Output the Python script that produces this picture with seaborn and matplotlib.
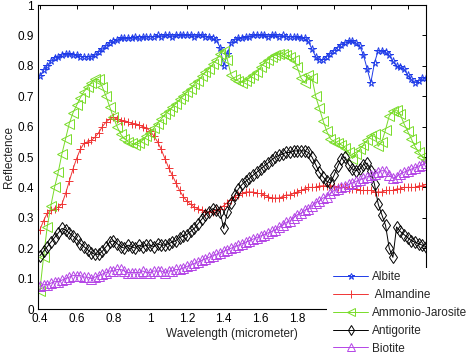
import matplotlib
matplotlib.use("Agg")
import matplotlib.pyplot as plt
import matplotlib.ticker as mticker
from matplotlib.patches import Rectangle
import seaborn as sns

# ── Data ──────────────────────────────────────────────────────
wavelength = [
    0.40, 0.42, 0.44, 0.46, 0.48, 0.50, 0.52, 0.54, 0.56, 0.58,
    0.60, 0.62, 0.64, 0.66, 0.68, 0.70, 0.72, 0.74, 0.76, 0.78,
    0.80, 0.82, 0.84, 0.86, 0.88, 0.90, 0.92, 0.94, 0.96, 0.98,
    1.00, 1.02, 1.04, 1.06, 1.08, 1.10, 1.12, 1.14, 1.16, 1.18,
    1.20, 1.22, 1.24, 1.26, 1.28, 1.30, 1.32, 1.34, 1.36, 1.38,
    1.40, 1.42, 1.44, 1.46, 1.48, 1.50, 1.52, 1.54, 1.56, 1.58,
    1.60, 1.62, 1.64, 1.66, 1.68, 1.70, 1.72, 1.74, 1.76, 1.78,
    1.80, 1.82, 1.84, 1.86, 1.88, 1.90, 1.92, 1.94, 1.96, 1.98,
    2.00, 2.02, 2.04, 2.06, 2.08, 2.10, 2.12, 2.14, 2.16, 2.18,
    2.20, 2.22, 2.24, 2.26, 2.28, 2.30, 2.32, 2.34, 2.36, 2.38,
    2.40, 2.42, 2.44, 2.46, 2.48, 2.50,
]

albite = [
    0.765, 0.785, 0.80, 0.815, 0.825, 0.83, 0.835, 0.84, 0.84, 0.835,
    0.835, 0.83, 0.83, 0.83, 0.83, 0.835, 0.845, 0.855, 0.865, 0.875,
    0.88, 0.885, 0.89, 0.89, 0.89, 0.89, 0.895, 0.89, 0.895, 0.895,
    0.895, 0.895, 0.90, 0.895, 0.90, 0.90, 0.895, 0.90, 0.90, 0.90,
    0.90, 0.90, 0.895, 0.90, 0.90, 0.895, 0.895, 0.89, 0.885, 0.86,
    0.80, 0.84, 0.875, 0.885, 0.89, 0.89, 0.895, 0.895, 0.90, 0.90,
    0.90, 0.90, 0.895, 0.90, 0.90, 0.895, 0.90, 0.895, 0.895, 0.895,
    0.895, 0.89, 0.89, 0.88, 0.855, 0.83, 0.82, 0.82, 0.83, 0.84,
    0.85, 0.86, 0.87, 0.875, 0.88, 0.88, 0.875, 0.865, 0.835, 0.79,
    0.745, 0.81, 0.85, 0.85, 0.845, 0.835, 0.815, 0.80, 0.795, 0.79,
    0.77, 0.755, 0.745, 0.75, 0.76, 0.76,
]

almandine = [
    0.26, 0.29, 0.315, 0.325, 0.33, 0.335, 0.345, 0.38, 0.42, 0.46,
    0.495, 0.525, 0.545, 0.55, 0.555, 0.565, 0.58, 0.60, 0.615, 0.625,
    0.63, 0.625, 0.62, 0.62, 0.615, 0.61, 0.61, 0.605, 0.60, 0.595,
    0.585, 0.57, 0.55, 0.525, 0.495, 0.465, 0.44, 0.415, 0.39, 0.37,
    0.355, 0.345, 0.335, 0.33, 0.325, 0.32, 0.32, 0.32, 0.325, 0.33,
    0.34, 0.35, 0.36, 0.37, 0.375, 0.38, 0.385, 0.385, 0.385, 0.38,
    0.38, 0.375, 0.37, 0.365, 0.365, 0.365, 0.37, 0.375, 0.375, 0.38,
    0.385, 0.39, 0.395, 0.40, 0.40, 0.40, 0.405, 0.405, 0.405, 0.405,
    0.405, 0.40, 0.40, 0.40, 0.395, 0.395, 0.395, 0.39, 0.39, 0.39,
    0.39, 0.385, 0.385, 0.385, 0.39, 0.39, 0.39, 0.395, 0.395, 0.40,
    0.40, 0.40, 0.40, 0.405, 0.405, 0.41,
]

ammonio_jarosite = [
    0.06, 0.17, 0.27, 0.34, 0.40, 0.45, 0.51, 0.56, 0.61, 0.645,
    0.67, 0.695, 0.715, 0.73, 0.745, 0.755, 0.755, 0.73, 0.70, 0.665,
    0.63, 0.60, 0.575, 0.56, 0.55, 0.545, 0.54, 0.545, 0.555, 0.57,
    0.58, 0.595, 0.61, 0.625, 0.64, 0.65, 0.665, 0.675, 0.69, 0.70,
    0.715, 0.725, 0.74, 0.75, 0.765, 0.78, 0.79, 0.805, 0.82, 0.84,
    0.85, 0.82, 0.77, 0.755, 0.75, 0.745, 0.75, 0.76, 0.77, 0.78,
    0.795, 0.81, 0.82, 0.83, 0.835, 0.84, 0.84, 0.835, 0.83, 0.82,
    0.795, 0.76, 0.745, 0.77, 0.76, 0.70, 0.66, 0.62, 0.585, 0.56,
    0.55, 0.545, 0.54, 0.53, 0.515, 0.495, 0.51, 0.525, 0.54, 0.555,
    0.57, 0.575, 0.535, 0.55, 0.59, 0.635, 0.65, 0.655, 0.64, 0.61,
    0.585, 0.56, 0.535, 0.515, 0.50, 0.49,
]

antigorite = [
    0.175, 0.19, 0.205, 0.22, 0.235, 0.25, 0.265, 0.26, 0.25, 0.24,
    0.23, 0.215, 0.205, 0.195, 0.185, 0.18, 0.18, 0.19, 0.205, 0.22,
    0.225, 0.215, 0.205, 0.20, 0.21, 0.205, 0.20, 0.21, 0.205, 0.21,
    0.21, 0.205, 0.215, 0.21, 0.21, 0.215, 0.22, 0.225, 0.235, 0.24,
    0.245, 0.255, 0.265, 0.28, 0.295, 0.31, 0.32, 0.33, 0.325, 0.32,
    0.265, 0.32, 0.35, 0.375, 0.395, 0.41, 0.42, 0.43, 0.44, 0.45,
    0.46, 0.47, 0.48, 0.49, 0.50, 0.505, 0.51, 0.515, 0.515, 0.52,
    0.52, 0.52, 0.52, 0.515, 0.50, 0.475, 0.45, 0.435, 0.42, 0.415,
    0.44, 0.47, 0.495, 0.50, 0.475, 0.46, 0.455, 0.46, 0.475, 0.48,
    0.455, 0.41, 0.345, 0.31, 0.275, 0.20, 0.17, 0.27, 0.255, 0.245,
    0.235, 0.225, 0.22, 0.215, 0.21, 0.205,
]

biotite = [
    0.075, 0.08, 0.08, 0.085, 0.09, 0.09, 0.095, 0.10, 0.105, 0.11,
    0.11, 0.11, 0.105, 0.105, 0.10, 0.105, 0.11, 0.115, 0.12, 0.125,
    0.125, 0.13, 0.13, 0.125, 0.12, 0.12, 0.12, 0.12, 0.125, 0.12,
    0.12, 0.125, 0.125, 0.125, 0.12, 0.125, 0.125, 0.13, 0.13, 0.135,
    0.14, 0.145, 0.15, 0.155, 0.16, 0.165, 0.17, 0.175, 0.18, 0.185,
    0.19, 0.195, 0.20, 0.205, 0.21, 0.215, 0.22, 0.225, 0.23, 0.235,
    0.24, 0.245, 0.25, 0.255, 0.26, 0.27, 0.275, 0.285, 0.29, 0.30,
    0.31, 0.315, 0.325, 0.33, 0.34, 0.35, 0.355, 0.365, 0.37, 0.38,
    0.39, 0.395, 0.40, 0.405, 0.41, 0.415, 0.42, 0.425, 0.43, 0.435,
    0.44, 0.445, 0.45, 0.455, 0.455, 0.44, 0.43, 0.435, 0.445, 0.45,
    0.455, 0.46, 0.465, 0.47, 0.475, 0.48,
]

labels  = ["Albite", " Almandine", "Ammonio-Jarosite", "Antigorite", "Biotite"]
series  = [albite, almandine, ammonio_jarosite, antigorite, biotite]
colors  = ["#1f3be8", "#f03535", "#78dc28", "#000000", "#b445e6"]
markers = ["*", "+", "<", "d", "^"]
msizes  = [5.5, 6, 6.5, 6, 6.5]

xticks      = [0.4, 0.6, 0.8, 1.0, 1.2, 1.4, 1.6, 1.8, 2.0, 2.2, 2.4]
xticklabels = ["0.4", "0.6", "0.8", "1", "1.2", "1.4", "1.6", "1.8", "", "", ""]
yticks      = [0, 0.1, 0.2, 0.3, 0.4, 0.5, 0.6, 0.7, 0.8, 0.9, 1.0]

# ── Style ─────────────────────────────────────────────────────
sns.set_style("white")
plt.rcParams["font.family"] = ["Liberation Sans", "DejaVu Sans"]

fig = plt.figure(figsize=(4.74, 3.56), dpi=100)
ax = fig.add_axes([38 / 474, 1 - 309 / 356, 388 / 474, 304 / 356])

for lab, vals, col, mk, ms in zip(labels, series, colors, markers, msizes):
    sns.lineplot(x=wavelength, y=vals, ax=ax, color=col, marker=mk,
                 markersize=ms, markerfacecolor="none", markeredgecolor=col,
                 markeredgewidth=0.7, linewidth=0.7, label=lab,
                 sort=False, estimator=None)

ax.set_xlim(0.39, 2.5)
ax.set_ylim(0, 1)
ax.set_xticks(xticks)
ax.set_xticklabels(xticklabels)
ax.set_yticks(yticks)
ax.yaxis.set_major_formatter(mticker.FuncFormatter(lambda v, p: f"{v:g}"))
ax.tick_params(direction="in", top=True, right=True, length=3,
               width=0.7, labelsize=8.5, pad=3, colors="black")
for sp in ax.spines.values():
    sp.set_color("black")
    sp.set_linewidth(0.8)

ax.set_xlabel("Wavelength (micrometer)", fontsize=8.5, labelpad=2)
ax.set_ylabel("Reflectence", fontsize=8.5, labelpad=2)

handles, labs = ax.get_legend_handles_labels()
ax.get_legend().remove()

# white legend area over the lower right corner (hides ticks there)
fig.add_artist(Rectangle((327 / 474, 0), 147 / 474, 88 / 356,
                         transform=fig.transFigure, facecolor="white",
                         edgecolor="none", zorder=3))
fig.legend(handles, labs, loc="upper left",
           bbox_to_anchor=(333 / 474, 1 - 271 / 356),
           frameon=False, borderpad=0, borderaxespad=0, fontsize=8.5,
           handlelength=3.0, handletextpad=0.3, labelspacing=0.5,
           markerscale=0.85)

fig.savefig("out.png", dpi=100)
